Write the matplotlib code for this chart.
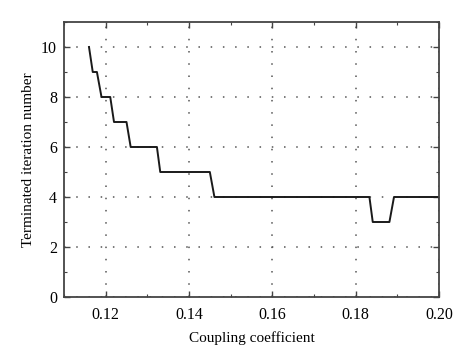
import matplotlib.pyplot as plt
from matplotlib.ticker import MultipleLocator

# ── Data ──────────────────────────────────────────────────────────
coupling = [0.1160, 0.1169, 0.1179, 0.1190, 0.1211, 0.1220, 0.1250, 0.1260,
            0.1323, 0.1331, 0.1450, 0.1461, 0.1833, 0.1841, 0.1881, 0.1892, 0.2000]
iterations = [10, 9, 9, 8, 8, 7, 7, 6,
              6, 5, 5, 4, 4, 3, 3, 4, 4]

x_ticks = [0.12, 0.14, 0.16, 0.18, 0.20]
y_ticks = [0, 2, 4, 6, 8, 10]

plt.rcParams['font.family'] = ['Liberation Serif', 'DejaVu Serif']

fig = plt.figure(figsize=(4.74, 3.64), dpi=100)
ax = fig.add_axes([64 / 474, 1 - 297 / 364, (439 - 64) / 474, (297 - 22) / 364])

ax.plot(coupling, iterations, color="#1a1a1a", linewidth=1.4)

ax.set_xlim(0.11, 0.20)
ax.set_ylim(0, 11)
ax.set_xticks(x_ticks)
ax.set_xticklabels([f"{v:.2f}" for v in x_ticks])
ax.set_yticks(y_ticks)
ax.xaxis.set_minor_locator(MultipleLocator(0.01))
ax.yaxis.set_minor_locator(MultipleLocator(1))
ax.tick_params(which="both", direction="in", top=True, right=True,
               labelsize=11.5, color="#444444")
ax.tick_params(which="major", length=4, width=1)
ax.tick_params(axis="x", which="major", pad=7)
ax.tick_params(axis="y", which="major", pad=5)
ax.tick_params(which="minor", length=2.5, width=0.8)

ax.grid(True, which="major", linestyle=(0, (1, 7)), color="#555555", linewidth=1.1)
for s in ax.spines.values():
    s.set_color("#444444")
    s.set_linewidth(1.3)

ax.set_xlabel("Coupling coefficient", fontsize=11, labelpad=6)
ax.set_ylabel("Terminated iteration number", fontsize=11, labelpad=4)

fig.savefig("out.png", dpi=100)
